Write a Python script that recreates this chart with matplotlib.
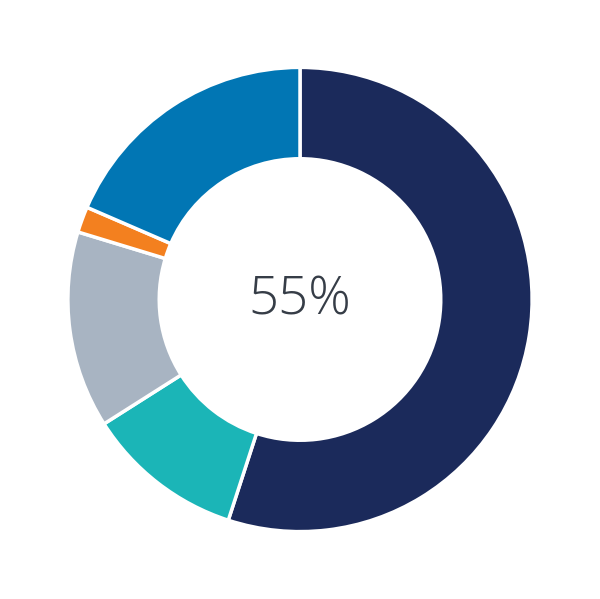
import matplotlib.pyplot as plt

# segment shares, clockwise from 12 o'clock
labels = ['Navy', 'Teal', 'Gray', 'Orange', 'Blue']
values = [55, 11, 13.7, 1.8, 18.5]
colors = ['#1b2a5b', '#1bb5b7', '#a8b4c2', '#f3801f', '#0176b4']
center_text = '55%'

fig = plt.figure(figsize=(6.0, 5.99), dpi=100)
ax = fig.add_axes([0, 0, 1, 1])

# donut
ax.pie(values, colors=colors, startangle=90, counterclock=False,
       radius=0.775, center=(0, 0),
       wedgeprops=dict(width=0.305, edgecolor='white', linewidth=2.5))

ax.text(0, -0.005, center_text, ha='center', va='center', fontsize=38,
        family=['Open Sans', 'DejaVu Sans'], weight='light', color='#363d47')

ax.set_xlim(-1, 1)
ax.set_ylim(-1, 1)
ax.set_aspect('equal')
ax.axis('off')

fig.savefig('out.png', dpi=100, facecolor='white')
